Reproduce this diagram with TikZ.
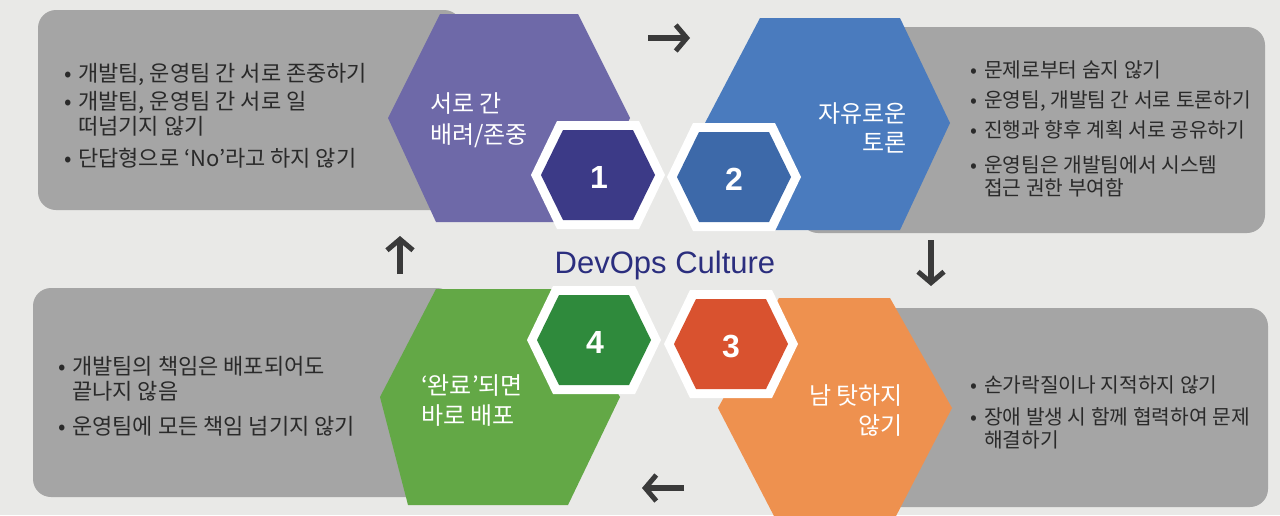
\documentclass[tikz,border=0pt]{standalone}
\usepackage{fontspec}
\setmainfont{Noto Sans CJK KR}
\newfontfamily\latinsans{Liberation Sans}
\usetikzlibrary{arrows.meta}

\definecolor{paper}{HTML}{E9E9E7}
\definecolor{panel}{HTML}{A5A5A5}
\definecolor{purpleA}{HTML}{6E69A8}
\definecolor{purpleB}{HTML}{3C3A87}
\definecolor{blueA}{HTML}{4A7BBE}
\definecolor{blueB}{HTML}{3D69A9}
\definecolor{orangeA}{HTML}{EE914F}
\definecolor{orangeB}{HTML}{D9522F}
\definecolor{greenA}{HTML}{63A846}
\definecolor{greenB}{HTML}{2F8A3C}
\definecolor{navy}{HTML}{2B2E7E}
\definecolor{arrowgray}{HTML}{3A3A3A}
\definecolor{inktext}{HTML}{2A2A2A}

\newcommand{\smallhexagon}[3]{%
  \begin{scope}[shift={(#1,#2)}]
    \fill[white] (-67,0) -- (-41,-54) -- (41,-54) -- (67,0) -- (41,54) -- (-41,54) -- cycle;
    \fill[#3] (-57,0) -- (-35,-45) -- (35,-45) -- (57,0) -- (35,45) -- (-35,45) -- cycle;
  \end{scope}}

\begin{document}
\begin{tikzpicture}[x=1pt,y=-1pt,
  bul/.style={anchor=base west, inner sep=0pt, text=inktext, font=\fontsize{22}{26}\selectfont},
  bulr/.style={bul, font=\fontsize{20.3}{24}\selectfont},
  hexlabel/.style={inner sep=0pt, text=white, font=\fontsize{24}{28}\selectfont},
  num/.style={inner sep=0pt, text=white, font=\latinsans\bfseries\fontsize{32}{32}\selectfont},
  flow/.style={draw=arrowgray, line width=5.5pt, -{Straight Barb[length=11pt,width=26pt,line width=5pt]}},
  graypanel/.style={fill=panel, rounded corners=18pt},
]
\useasboundingbox (0,0) rectangle (1280,515);
\fill[paper] (0,0) rectangle (1280,515);
\clip (0,0) rectangle (1280,515);

% gray panels
\fill[graypanel] (38,10) rectangle (462,210);
\fill[graypanel] (800,27) rectangle (1265,233);
\fill[graypanel] (850,308) rectangle (1268,507);
\fill[graypanel] (33,288) rectangle (455,497);

% big hexagons
\fill[purpleA] (388,118) -- (440,14) -- (578,14) -- (630,118) -- (578,222) -- (436,222) -- cycle;
\fill[blueA] (705,123) -- (760,18) -- (900,18) -- (950,123) -- (900,230) -- (760,230) -- cycle;
\fill[greenA] (380,397) -- (436,289) -- (558,289) -- (620,397) -- (568,505) -- (408,505) -- cycle;
\fill[orangeA] (718,408) -- (779,298) -- (890,298) -- (952,408) -- (895,518) -- (775,518) -- cycle;

% small numbered hexagons
\smallhexagon{598}{175}{purpleB}
\smallhexagon{734}{177}{blueB}
\smallhexagon{731}{344}{orangeB}
\smallhexagon{594}{340}{greenB}

\node[num] (n1) at (599,177) {1};
\node[num] (n2) at (734,179) {2};
\node[num] (n3) at (731,346) {3};
\node[num] (n4) at (595,342) {4};

% hexagon labels
\node[hexlabel, anchor=base west] (l1a) at (430,112) {서로 간};
\node[hexlabel, anchor=base west] (l1b) at (430,143) {배려/존중};
\node[hexlabel, anchor=base east] (l2a) at (907,122) {자유로운};
\node[hexlabel, anchor=base east] (l2b) at (907,151) {토론};
\node[hexlabel, anchor=base east] (l3a) at (903,404) {남 탓하지};
\node[hexlabel, anchor=base east] (l3b) at (903,434) {않기};
\node[hexlabel, anchor=base west] (l4a) at (421,394) {‘완료’되면};
\node[hexlabel, anchor=base west] (l4b) at (421,424) {바로 배포};

% centre title
\node[inner sep=0pt, anchor=base, text=navy, font=\latinsans\fontsize{31}{31}\selectfont] (title) at (665,273) {DevOps Culture};

% panel 1 text
\node[bul] (p1a) at (64,81) {\makebox[14pt][l]{•}개발팀, 운영팀 간 서로 존중하기};
\node[bul] (p1b) at (64,109) {\makebox[14pt][l]{•}개발팀, 운영팀 간 서로 일};
\node[bul] (p1c) at (78,134) {떠넘기지 않기};
\node[bul] (p1d) at (64,166) {\makebox[14pt][l]{•}단답형으로 ‘No’라고 하지 않기};

% panel 2 text
\node[bulr] (p2a) at (970,77) {\makebox[14pt][l]{•}문제로부터 숨지 않기};
\node[bulr] (p2b) at (970,107) {\makebox[14pt][l]{•}운영팀, 개발팀 간 서로 토론하기};
\node[bulr] (p2c) at (970,137) {\makebox[14pt][l]{•}진행과 향후 계획 서로 공유하기};
\node[bulr] (p2d) at (970,172) {\makebox[14pt][l]{•}운영팀은 개발팀에서 시스템};
\node[bulr] (p2e) at (984,195) {접근 권한 부여함};

% panel 3 text
\node[bulr] (p3a) at (970,392) {\makebox[14pt][l]{•}손가락질이나 지적하지 않기};
\node[bulr] (p3b) at (970,424) {\makebox[14pt][l]{•}장애 발생 시 함께 협력하여 문제};
\node[bulr] (p3c) at (984,447) {해결하기};

% panel 4 text
\node[bul] (p4a) at (58,374) {\makebox[14pt][l]{•}개발팀의 책임은 배포되어도};
\node[bul] (p4b) at (72,399) {끝나지 않음};
\node[bul] (p4c) at (58,434) {\makebox[14pt][l]{•}운영팀에 모든 책임 넘기지 않기};

% cycle arrows
\coordinate (a1s) at (648,38);  \coordinate (a1e) at (690,38);
\coordinate (a2s) at (931,240); \coordinate (a2e) at (931,286);
\coordinate (a3s) at (684,488); \coordinate (a3e) at (642,488);
\coordinate (a4s) at (400,274); \coordinate (a4e) at (400,236);
\draw[flow] (a1s) -- (a1e);
\draw[flow] (a2s) -- (a2e);
\draw[flow] (a3s) -- (a3e);
\draw[flow] (a4s) -- (a4e);
\end{tikzpicture}
\end{document}
